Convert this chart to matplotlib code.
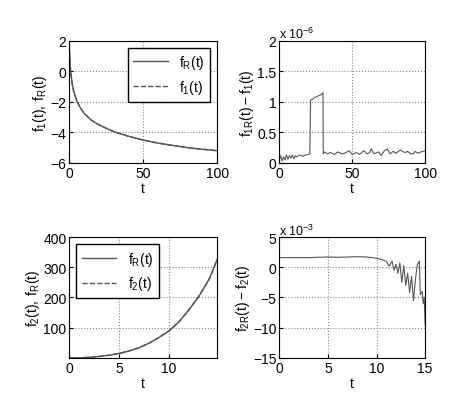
import matplotlib
matplotlib.use("Agg")
import matplotlib.pyplot as plt

t1 = [0, 0.5, 1, 2, 3, 5, 7, 10, 15, 20, 30, 40, 50, 60, 70, 80, 90, 100]
f1 = [1.8, 0.6, 0.0, -0.8, -1.3, -1.9, -2.3, -2.75, -3.2, -3.5, -3.95, -4.25, -4.5, -4.7, -4.85, -5.0, -5.1, -5.2]

t1e = [0, 1, 2, 3, 4, 5, 6, 7, 8, 9, 10, 11, 12, 14, 16, 18, 20, 21, 21.5, 23, 25, 27, 29, 30, 30.2, 31, 33, 35, 38, 40, 43, 45, 48, 50, 53, 55, 58, 60, 62, 63, 65, 68, 70, 72, 74, 76, 78, 80, 83, 86, 88, 90, 92, 93, 95, 97, 100]
e1 = [0.05, 0.12, 0.03, 0.10, 0.05, 0.13, 0.06, 0.12, 0.08, 0.13, 0.07, 0.12, 0.10, 0.13, 0.11, 0.13, 0.14, 0.15, 1.03, 1.05, 1.08, 1.10, 1.12, 1.15, 0.15, 0.18, 0.15, 0.17, 0.14, 0.18, 0.15, 0.16, 0.20, 0.14, 0.17, 0.14, 0.20, 0.15, 0.17, 0.23, 0.15, 0.18, 0.12, 0.20, 0.23, 0.15, 0.19, 0.16, 0.21, 0.17, 0.19, 0.15, 0.15, 0.19, 0.16, 0.18, 0.20]

t2 = [0, 1, 2, 3, 4, 5, 6, 7, 8, 9, 10, 11, 12, 13, 14, 14.8]
f2 = [0, 0.5, 2, 5, 9, 15, 23, 34, 49, 68, 90, 120, 160, 205, 260, 325]

t2e = [0, 1, 2, 3, 4, 5, 6, 7, 8, 9, 10, 10.5, 11, 11.3, 11.6, 11.8, 12.0, 12.2, 12.4, 12.6, 12.8, 13.0, 13.2, 13.4, 13.6, 13.8, 14.0, 14.2, 14.4, 14.5, 14.7, 14.8, 14.9, 15.0]
e2 = [1.6, 1.6, 1.6, 1.6, 1.65, 1.7, 1.65, 1.7, 1.75, 1.7, 1.5, 1.3, 1.0, 0.2, 1.0, -0.5, 0.5, -1.0, 0.7, -2.5, 0.3, -3.0, -1.0, -4.2, -1.5, -5.5, -2.0, 0.5, 1.0, -4.5, -4.0, -6.0, -5.0, -9.5]

plt.rcParams['font.family'] = ['Liberation Sans', 'DejaVu Sans']
plt.rcParams['font.size'] = 10
fig = plt.figure(figsize=(4.74, 4.14), dpi=100)
col = '#555555'
pos = [[0.146, 0.604, 0.312, 0.295], [0.589, 0.604, 0.308, 0.295],
       [0.146, 0.133, 0.312, 0.292], [0.589, 0.133, 0.308, 0.292]]
axs = [fig.add_axes(p) for p in pos]

def style(ax):
    ax.grid(True, linestyle=':', color='#888888', linewidth=0.8)
    ax.tick_params(direction='in', length=3, pad=2)
    ax.set_xlabel('t', labelpad=1)

ax = axs[0]
ax.plot(t1, f1, color=col, lw=1, label='$\\mathregular{f_R(t)}$')
ax.plot(t1, f1, color=col, lw=1, ls='--', label='$\\mathregular{f_1(t)}$')
ax.set_xlim(0, 100); ax.set_ylim(-6, 2); ax.set_yticks([-6, -4, -2, 0, 2]); ax.set_xticks([0, 50, 100])
ax.set_ylabel('$\\mathregular{f_1(t),\\, f_R(t)}$', labelpad=1)
ax.legend(loc='upper right', fancybox=False, edgecolor='k', framealpha=1, handlelength=2.5)
style(ax)

ax = axs[1]
ax.plot(t1e, [v * 1e-6 for v in e1], color=col, lw=0.8)
ax.set_xlim(0, 100); ax.set_ylim(0, 2e-6); ax.set_xticks([0, 50, 100])
ax.set_yticks([0, 0.5e-6, 1e-6, 1.5e-6, 2e-6]); ax.set_yticklabels(['0', '0.5', '1', '1.5', '2'])
ax.text(0, 1.02, 'x $\\mathregular{10^{-6}}$', transform=ax.transAxes, fontsize=9)
ax.set_ylabel('$\\mathregular{f_{1R}(t) - f_1(t)}$', labelpad=1)
style(ax)

ax = axs[2]
ax.plot(t2, f2, color=col, lw=1, label='$\\mathregular{f_R(t)}$')
ax.plot(t2, f2, color=col, lw=1, ls='--', label='$\\mathregular{f_2(t)}$')
ax.set_xlim(0, 14.8); ax.set_ylim(0, 400); ax.set_yticks([100, 200, 300, 400]); ax.set_xticks([0, 5, 10])
ax.set_ylabel('$\\mathregular{f_2(t),\\, f_R(t)}$', labelpad=1)
ax.legend(loc='upper left', fancybox=False, edgecolor='k', framealpha=1, handlelength=2.5)
style(ax)

ax = axs[3]
ax.plot(t2e, [v * 1e-3 for v in e2], color=col, lw=0.8)
ax.set_xlim(0, 15); ax.set_ylim(-15e-3, 5e-3); ax.set_xticks([0, 5, 10, 15])
ax.set_yticks([-15e-3, -10e-3, -5e-3, 0, 5e-3]); ax.set_yticklabels(['−15', '−10', '−5', '0', '5'])
ax.text(0, 1.02, 'x $\\mathregular{10^{-3}}$', transform=ax.transAxes, fontsize=9)
ax.set_ylabel('$\\mathregular{f_{2R}(t) - f_2(t)}$', labelpad=1)
style(ax)

fig.savefig('out.png', dpi=100)
